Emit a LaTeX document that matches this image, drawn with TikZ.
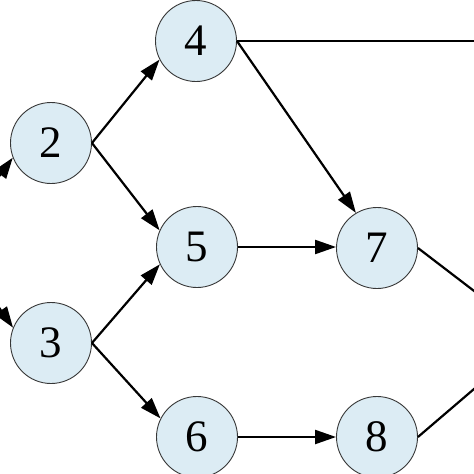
\documentclass[tikz,border=0pt]{standalone}
\usepackage{fontspec}
\setmainfont{Liberation Serif}
\usetikzlibrary{arrows.meta}
\definecolor{nodefill}{RGB}{220,236,244}
\definecolor{nodeline}{RGB}{55,55,55}
\begin{document}
\begin{tikzpicture}[x=1pt,y=-1pt,
  vert/.style={circle,draw=nodeline,fill=nodefill,line width=0.9pt,minimum size=81pt,inner sep=0pt,font=\fontsize{45}{48}\selectfont},
  edge/.style={line width=2.2pt,-{Triangle[length=21pt,width=14pt]}},
  plain/.style={line width=2.2pt}]
\clip (0,0) rectangle (474,474);
\fill[white] (0,0) rectangle (474,474);
\node[vert] (n4) at (196,41) {4};
\node[vert] (n2) at (51,143) {2};
\node[vert] (n5) at (197,247) {5};
\node[vert] (n7) at (377,248) {7};
\node[vert] (n3) at (51,343) {3};
\node[vert] (n6) at (197,437) {6};
\node[vert] (n8) at (377,437) {8};
\coordinate (in2) at (-14,194);
\coordinate (in3) at (-14,289);
\coordinate (out4) at (490,41);
\coordinate (out7) at (495,307);
\coordinate (out8) at (495,371);
\draw[edge] (in2) -- (n2.201);
\draw[edge] (in3) -- (n3.158);
\draw[edge] (n2.east) -- (n4.207);
\draw[edge] (n2.east) -- (n5.156);
\draw[edge] (n3.east) -- (n5.205);
\draw[edge] (n3.east) -- (n6.153);
\draw[edge] (n4.east) -- (n7.121);
\draw[edge] (n5.east) -- (n7.west |- n5.east);
\draw[edge] (n6.east) -- (n8.west |- n6.east);
\draw[plain] (n4.east) -- (out4);
\draw[plain] (n7.east) -- (out7);
\draw[plain] (n8.east) -- (out8);
\end{tikzpicture}
\end{document}
